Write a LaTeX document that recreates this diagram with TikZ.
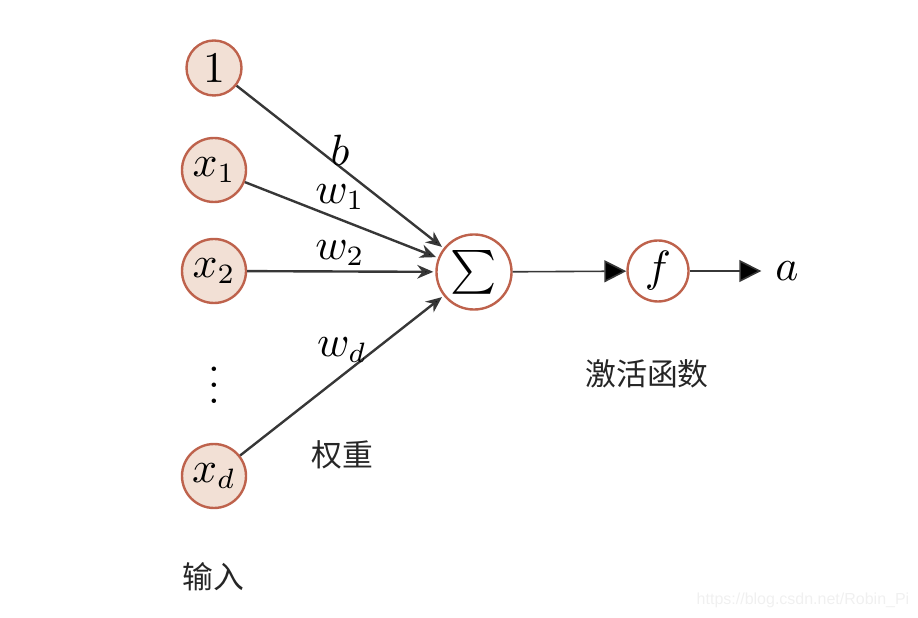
\documentclass[tikz,border=0pt]{standalone}
\usepackage{amsmath}
\usepackage{fontspec}
\newfontfamily\cjk{Noto Sans CJK SC}
\newfontfamily\markfont{Liberation Sans}
\usetikzlibrary{arrows.meta}
\definecolor{nodefill}{RGB}{242,224,213}
\definecolor{nodeline}{RGB}{190,98,76}
\definecolor{edgegray}{RGB}{55,55,55}

\begin{document}
\begin{tikzpicture}[x=0.25pt,y=-0.25pt,
	font=\fontsize{10.5}{12}\selectfont,
	inarrow/.style={line width=0.6pt,draw=edgegray,-{Stealth[length=4pt,width=3.4pt]},shorten >=0.5pt},
	outarrow/.style={line width=0.4pt,draw=edgegray,-{Triangle[length=5.5pt,width=5.5pt]}},
	cjklabel/.style={font=\cjk\fontsize{7.7}{9}\selectfont,text=black!85}]
	\useasboundingbox (0,0) rectangle (918,618);
	\begin{scope}[every node/.style={circle,line width=0.6pt,draw=nodeline,fill=nodefill,inner sep=1pt,minimum size=16pt}]
	\node[minimum size=13.75pt] (one) at (214,68) {$1$};
	\node (xa) at (214,170) {$x_1$};
	\node (xb) at (214,271) {$x_2$};
	\node (xd) at (214,476) {$x_d$};
	\node[fill=white,minimum size=18.75pt] (sum) at (474,272) {$\sum$};
	\node[fill=white,minimum size=15.25pt] (f) at (658,271) {$f$};
	\end{scope}
	\node (a) at (787,271) {$a$};
	\node (dots) at (214,373) {$\vdots$};
	\draw [inarrow] (one) edge (sum);
	\draw [inarrow] (xa) edge (sum);
	\draw [inarrow] (xb) edge (sum);
	\draw [inarrow] (xd) edge (sum);
	\draw [outarrow] (sum) edge (f);
	\draw [outarrow] (f) edge (a);
	\node (lb) at (340,150) {$b$};
	\node (lwa) at (340,197) {$w_1$};
	\node (lwb) at (340,253) {$w_2$};
	\node (lwd) at (342,350) {$w_d$};
	\node[cjklabel] (weights) at (342,455) {权重};
	\node[cjklabel] (act) at (647,374) {激活函数};
	\node[cjklabel] (input) at (213,577) {输入};
	\node[font=\markfont\fontsize{4}{5}\selectfont,text=gray!12] (mark) at (803,600) {https://blog.csdn.net/Robin\_Pi};
\end{tikzpicture}
\end{document}
